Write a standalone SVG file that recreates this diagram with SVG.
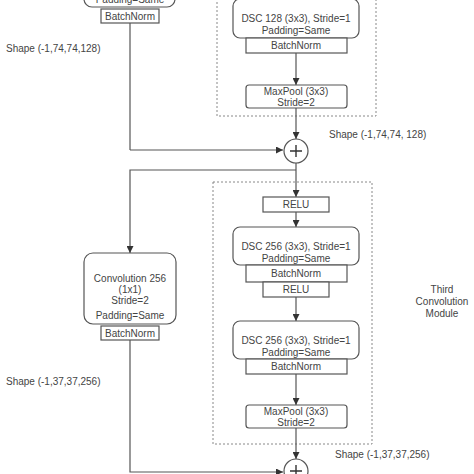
<svg xmlns="http://www.w3.org/2000/svg" width="474" height="474" viewBox="0 0 474 474">
<defs>
<style>
.b{fill:#fff;stroke:#555;stroke-width:1.2}
.d{fill:none;stroke:#888;stroke-width:1;stroke-dasharray:2,2}
.l{fill:none;stroke:#555;stroke-width:1.2}
text{font-family:"Liberation Sans",Arial,sans-serif;font-size:10px;fill:#444;text-anchor:middle}
.s{text-anchor:start}
</style>
<marker id="a" viewBox="0 0 10 10" refX="10" refY="5" markerWidth="7" markerHeight="7" orient="auto" markerUnits="userSpaceOnUse"><path d="M0,0L10,5L0,10z" fill="#333"/></marker>
</defs>
<rect width="474" height="474" fill="#fff"/>
<g id="modules">
<rect class="d" x="217" y="-10" width="159" height="126"/>
<rect class="d" x="213" y="182" width="159" height="262"/>
<text x="442" y="293">Third</text>
<text x="442" y="305">Convolution</text>
<text x="442" y="317">Module</text>
</g>
<g id="connectors">
<line class="l" x1="130" y1="23" x2="130" y2="150"/>
<polyline class="l" points="130,150 283,150" marker-end="url(#a)"/>
<line class="l" x1="296" y1="53" x2="296" y2="85" marker-end="url(#a)"/>
<line class="l" x1="296" y1="108" x2="296" y2="139" marker-end="url(#a)"/>
<line class="l" x1="296" y1="163" x2="296" y2="197" marker-end="url(#a)"/>
<polyline class="l" points="296,170 130,170 130,253" marker-end="url(#a)"/>
<line class="l" x1="296" y1="212" x2="296" y2="227" marker-end="url(#a)"/>
<line class="l" x1="296" y1="297" x2="296" y2="321" marker-end="url(#a)"/>
<line class="l" x1="296" y1="374" x2="296" y2="405" marker-end="url(#a)"/>
<line class="l" x1="296" y1="428" x2="296" y2="459" marker-end="url(#a)"/>
<polyline class="l" points="130,340 130,472 283,472" marker-end="url(#a)"/>
</g>
<g id="conv128">
<rect class="b" x="84" y="-30" width="91" height="37" rx="8"/>
<text x="130" y="3">Padding=Same</text>
</g>
<g id="bn128skip">
<rect class="b" x="101" y="9" width="58" height="14"/>
<text x="130" y="19.5">BatchNorm</text>
</g>
<text class="s" x="6" y="52">Shape (-1,74,74,128)</text>
<g id="dsc128">
<rect class="b" x="233" y="-1" width="126" height="39" rx="7"/>
<text x="296" y="22">DSC 128 (3x3), Stride=1</text>
<text x="296" y="34">Padding=Same</text>
</g>
<g id="bn128">
<rect class="b" x="246" y="38" width="101" height="15"/>
<text x="296" y="49">BatchNorm</text>
</g>
<g id="maxpool1">
<rect class="b" x="246" y="85" width="101" height="23" rx="3"/>
<text x="296" y="95">MaxPool (3x3)</text>
<text x="296" y="106">Stride=2</text>
</g>
<g id="add1">
<circle class="b" cx="296" cy="151" r="12"/>
<path d="M290,151H302M296,145V157" stroke="#333" stroke-width="1.4"/>
</g>
<text class="s" x="329" y="138">Shape (-1,74,74, 128)</text>
<g id="relu1">
<rect class="b" x="263" y="197" width="66" height="15"/>
<text x="296" y="208">RELU</text>
</g>
<g id="dsc256a">
<rect class="b" x="233" y="227" width="126" height="38" rx="7"/>
<text x="296" y="250">DSC 256 (3x3), Stride=1</text>
<text x="296" y="262">Padding=Same</text>
</g>
<g id="bn256a">
<rect class="b" x="246" y="265" width="101" height="17"/>
<text x="296" y="277">BatchNorm</text>
</g>
<g id="relu2">
<rect class="b" x="263" y="282" width="66" height="15"/>
<text x="296" y="293">RELU</text>
</g>
<g id="conv256">
<rect class="b" x="84" y="253" width="92" height="71" rx="9"/>
<text x="130" y="282">Convolution 256</text>
<text x="130" y="293">(1x1)</text>
<text x="130" y="304">Stride=2</text>
<text x="130" y="319">Padding=Same</text>
</g>
<g id="bn256skip">
<rect class="b" x="101" y="326" width="58" height="14"/>
<text x="130" y="336.5">BatchNorm</text>
</g>
<text class="s" x="6" y="385">Shape (-1,37,37,256)</text>
<g id="dsc256b">
<rect class="b" x="233" y="321" width="126" height="38" rx="7"/>
<text x="296" y="344">DSC 256 (3x3), Stride=1</text>
<text x="296" y="356">Padding=Same</text>
</g>
<g id="bn256b">
<rect class="b" x="246" y="359" width="101" height="15"/>
<text x="296" y="370">BatchNorm</text>
</g>
<g id="maxpool2">
<rect class="b" x="246" y="405" width="101" height="23" rx="3"/>
<text x="296" y="415">MaxPool (3x3)</text>
<text x="296" y="426">Stride=2</text>
</g>
<g id="add2">
<circle class="b" cx="296" cy="471" r="12"/>
<path d="M290,471H302M296,465V477" stroke="#333" stroke-width="1.4"/>
</g>
<text class="s" x="335" y="458">Shape (-1,37,37,256)</text>
</svg>
